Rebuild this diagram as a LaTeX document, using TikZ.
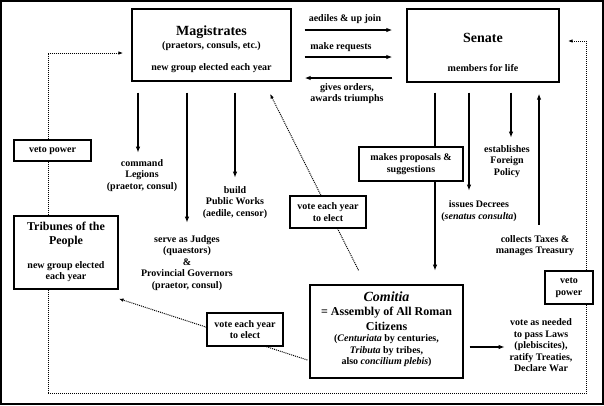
\documentclass[tikz,border=0pt]{standalone}
\usepackage{fontspec}
\setmainfont{Liberation Serif}
\usetikzlibrary{arrows.meta,calc}
\begin{document}
\begin{tikzpicture}[x=1pt,y=-1pt,
 box/.style={draw, line width=1.3pt, fill=white, inner sep=0pt},
 txt/.style={align=center, font=\fontsize{10}{11.5}\selectfont\bfseries, inner sep=0pt},
 big/.style={align=center, font=\fontsize{14}{16}\selectfont\bfseries, inner sep=0pt},
 mid/.style={align=center, font=\fontsize{12}{14.5}\selectfont\bfseries, inner sep=0pt},
 arr/.style={line width=1.4pt, -{Latex[length=6pt,width=4.5pt]}},
 dotarr/.style={line width=1pt, dash pattern=on 1pt off 1pt, -{Latex[length=5pt,width=3.5pt]}}]

\useasboundingbox (0,0) rectangle (604,405);
\fill[white] (0,0) rectangle (604,405);
\draw[line width=2pt] (1,1) rectangle (603,404);

% main boxes
\node[box, minimum width=159pt, minimum height=72pt] (mag) at (211.5,45) {};
\node[big] (magT) at (211.5,32) {Magistrates};
\node[txt] (magP) at (211.5,46) {(praetors, consuls, etc.)};
\node[txt] (magN) at (211.5,68) {new group elected each year};

\node[box, minimum width=152pt, minimum height=73pt] (sen) at (483,45.5) {};
\node[big] (senT) at (483,38) {Senate};
\node[txt] (senN) at (483,68) {members for life};

\node[box, minimum width=104pt, minimum height=73pt] (trib) at (66,252.5) {};
\node[mid] (tribT) at (66,234.5) {Tribunes of the\\People};
\node[txt] (tribN) at (66,271.5) {new group elected\\each year};

\node[box, minimum width=153pt, minimum height=93pt] (com) at (386.5,331.5) {};
\node[font=\fontsize{14}{16}\selectfont\bfseries\itshape, inner sep=0pt] (comT) at (386.5,297) {Comitia};
\node[mid] (comA) at (386.5,319) {= Assembly of All Roman\\Citizens};
\node[txt] (comC) at (386.5,351) {(\textit{Centuriata} by centuries,\\\textit{Tributa} by tribes,\\also \textit{concilium plebis})};

% magistrates <-> senate
\draw[arr] ($(mag.east)+(13,-15)$) -- ($(mag.east -| sen.west)+(-14,-15)$);
\node[txt] (ajoin) at (345,19) {aediles \& up join};
\draw[arr] ($(mag.east)+(13,12)$) -- ($(mag.east -| sen.west)+(-14,12)$);
\node[txt] (req) at (341,47) {make requests};
\draw[arr] ($(mag.east -| sen.west)+(-14,33)$) -- ($(mag.east)+(13,33)$);
\node[txt] (ord) at (347,93.5) {gives orders,\\awards triumphs};

% magistrates duties
\node[txt] (cmd) at (142,175.5) {command\\Legions\\(praetor, consul)};
\node[txt] (judg) at (187,263) {serve as Judges\\(quaestors)\\\&\\Provincial Governors\\(praetor, consul)};
\node[txt] (build) at (235,202.5) {build\\Public Works\\(aedile, censor)};
\draw[arr] ($(mag.south)+(-73.5,11)$) -- ($(mag.south)+(-73.5,71)$);
\draw[arr] ($(mag.south)+(-24.5,11)$) -- ($(mag.south)+(-24.5,141)$);
\draw[arr] ($(mag.south)+(23.5,11)$) -- ($(mag.south)+(23.5,96)$);

% senate duties
\draw[arr] ($(sen.south)+(-48,10)$) -- ($(sen.south)+(-48,188)$);
\node[box, txt, minimum width=104pt, minimum height=34pt] (prop) at (411,164) {makes proposals \&\\suggestions};
\draw[arr] ($(sen.south)+(-14,10)$) -- ($(sen.south)+(-14,108)$);
\draw[arr] ($(sen.south)+(28,10)$) -- ($(sen.south)+(28,55)$);
\draw[arr] ($(sen.south)+(56,142)$) -- ($(sen.south)+(56,11)$);
\node[txt] (dec) at (479,211) {issues Decrees\\(\textit{senatus consulta})};
\node[txt] (forg) at (507,161.5) {establishes\\Foreign\\Policy};
\node[txt] (tax) at (535,245.5) {collects Taxes \&\\manages Treasury};

% veto lines
\draw[dotarr] ($(trib.north)+(-18,0)$) |- ($(mag.west)+(-8,8)$);
\draw[dotarr] ($(trib.south)+(-18,0)$) -- ++(0,104) -- ++(538,0) |- ($(sen.east)+(8,-4.5)$);
\node[box, txt, minimum width=77pt, minimum height=21pt] (vetoL) at (52.5,150.5) {veto power};
\node[box, txt, minimum width=48pt, minimum height=33pt] (vetoR) at (569,287.5) {veto\\power};

% elections
\draw[dotarr] ($(com.north)+(-28,-14)$) -- ($(mag.south)+(58.5,12)$);
\node[box, txt, minimum width=76pt, minimum height=32pt] (voteU) at (328,212) {vote each year\\to elect};
\draw[dotarr] ($(com.west)+(-2,28.5)$) -- ($(trib.south east)+(0,9)$);
\node[box, txt, minimum width=76pt, minimum height=33pt] (voteL) at (245,329.5) {vote each year\\to elect};

% laws
\draw[arr] ($(com.east)+(6,15.5)$) -- ($(com.east)+(41,15.5)$);
\node[txt] (laws) at (541,345.5) {vote as needed\\to pass Laws\\(plebiscites),\\ratify Treaties,\\Declare War};
\end{tikzpicture}
\end{document}
